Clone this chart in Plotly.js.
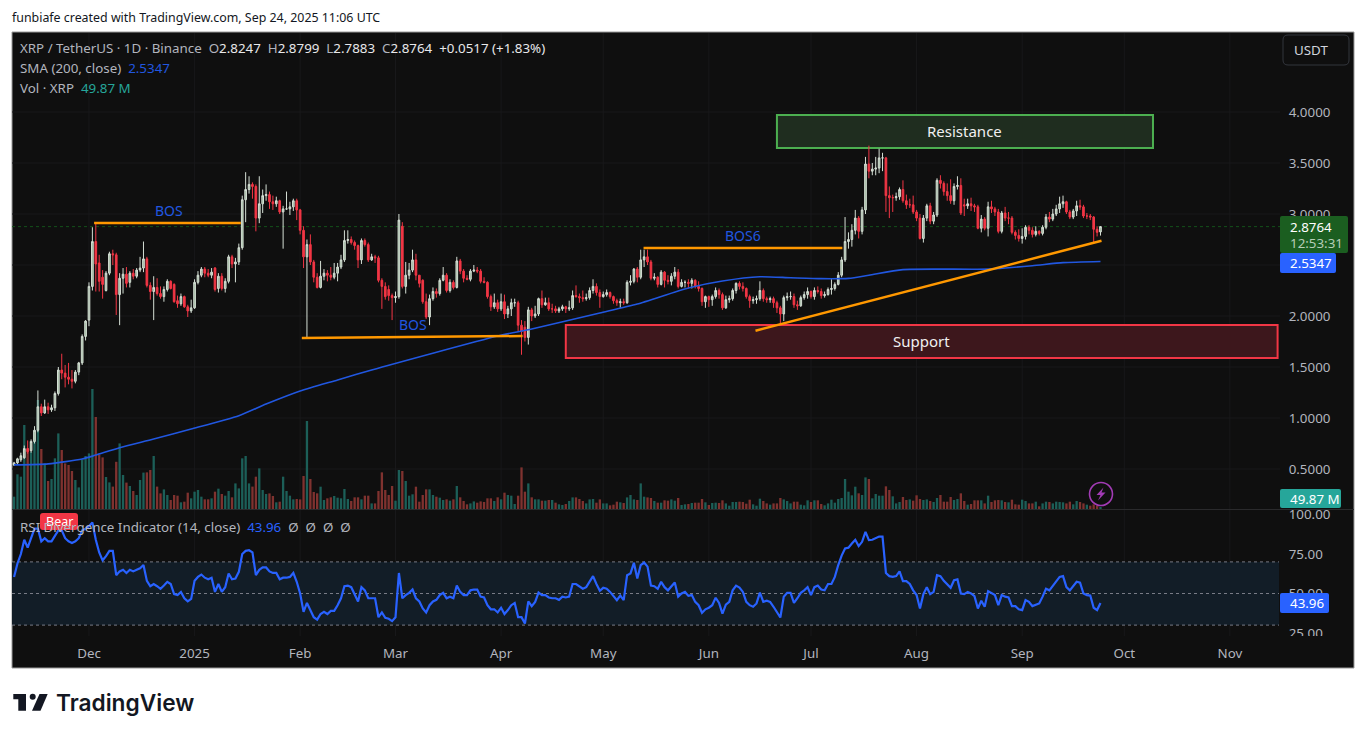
<!DOCTYPE html>
<html><head><meta charset="utf-8">
<script src="https://cdn.plot.ly/plotly-3.0.1.min.js"></script>
<style>html,body{margin:0;padding:0;background:#fff}#c{width:1366px;height:737px}</style>
</head><body><div id="c"></div>
<script>
const firstDay = '2024-11-09';
const opens = [
.54,.56,.59,.61,.70,.68,.77,.88,1.11,1.05,1.11,1.08,1.10,1.24,1.47,1.44,1.40,1.38,1.36,1.45,1.54,1.80,
1.96,2.29,2.73,2.52,2.38,2.25,2.42,2.61,2.60,2.21,2.37,2.41,2.33,2.42,2.39,2.45,2.47,2.56,2.30,2.24,2.28,2.22,2.19,2.26,2.34,2.31,2.15,2.12,2.19,2.09,2.05,
2.08,2.33,2.40,2.46,2.42,2.40,2.47,2.27,2.39,2.27,2.34,2.58,2.51,2.53,2.67,3.14,3.24,3.29,3.27,2.96,3.10,3.18,3.19,3.12,3.10,3.13,3.02,3.05,3.05,3.07,3.13,
3.04,2.84,2.58,2.70,2.53,2.38,2.28,2.39,2.42,2.40,2.38,2.42,2.48,2.55,2.74,2.75,2.72,2.69,2.55,2.74,2.70,2.55,2.58,2.57,2.35,2.29,2.26,2.20,
2.18,2.19,2.88,2.29,2.40,2.45,2.55,2.40,2.35,2.14,1.99,2.17,2.24,2.22,2.35,2.40,2.25,2.33,2.28,2.54,2.44,2.37,2.36,2.44,2.45,2.44,2.34,2.33,2.19,2.09,2.13,
2.07,2.14,2.02,2.07,2.13,2.13,1.91,1.89,1.79,2.06,2.00,2.02,2.17,2.11,2.13,2.07,2.07,2.05,2.07,2.09,2.07,2.08,2.20,2.19,2.18,2.17,2.18,2.25,2.29,2.23,
2.19,2.21,2.23,2.19,2.15,2.13,2.14,2.13,2.33,2.34,2.46,2.38,2.55,2.58,2.53,2.37,2.38,2.31,2.43,2.35,2.34,2.39,2.43,2.29,2.33,2.33,2.32,2.35,2.29,2.27,2.14,
2.19,2.16,2.19,2.25,2.21,2.08,2.16,2.17,2.25,2.32,2.29,2.27,2.19,2.15,2.16,2.17,2.25,2.17,2.16,2.17,2.13,2.08,2.02,2.18,2.19,2.19,2.11,2.10,2.18,2.21,
2.24,2.19,2.25,2.24,2.20,2.21,2.26,2.27,2.31,2.40,2.55,2.73,2.75,2.84,2.96,2.83,3.04,3.49,3.42,3.44,3.45,3.55,3.55,3.18,3.16,3.16,3.17,3.24,3.13,3.09,3.09,
3.02,2.96,2.76,2.96,3.08,2.93,2.99,3.33,3.30,3.22,3.18,3.13,3.27,3.28,3.09,3.08,3.10,3.08,3.07,2.86,2.95,2.86,3.07,3.05,3.02,2.83,3.01,2.96,2.96,2.82,2.79,
2.76,2.78,2.87,2.84,2.80,2.83,2.81,2.87,2.97,2.95,3.00,3.05,3.10,3.12,3.02,2.97,3.03,3.08,3.07,2.98,2.98,2.97,2.85,2.8247];
const closes = [
.56,.60,.63,.70,.67,.77,.88,1.11,1.05,1.11,1.08,1.10,1.24,1.47,1.44,1.40,1.38,1.36,1.45,1.54,1.80,1.95,
2.29,2.73,2.51,2.34,2.31,2.42,2.61,2.60,2.21,2.37,2.41,2.32,2.42,2.39,2.45,2.47,2.56,2.30,2.24,2.28,2.22,2.19,2.26,2.34,2.27,2.14,2.12,2.19,2.09,2.05,2.08,
2.33,2.40,2.46,2.42,2.40,2.43,2.26,2.39,2.27,2.34,2.58,2.51,2.53,2.67,3.14,3.24,3.29,3.27,2.96,3.10,3.18,3.19,3.12,3.10,3.13,3.02,3.05,3.05,3.07,3.13,3.04,
2.84,2.58,2.70,2.53,2.38,2.28,2.39,2.42,2.40,2.38,2.42,2.48,2.55,2.74,2.75,2.72,2.69,2.55,2.74,2.70,2.55,2.58,2.57,2.35,2.29,2.19,2.20,2.18,
2.19,2.94,2.29,2.40,2.45,2.55,2.40,2.32,2.14,1.99,2.17,2.24,2.22,2.35,2.40,2.25,2.33,2.28,2.54,2.44,2.37,2.36,2.44,2.45,2.44,2.34,2.33,2.19,2.09,2.13,2.07,
2.14,2.02,2.07,2.13,2.13,1.91,1.85,1.79,2.06,2.00,2.02,2.17,2.11,2.13,2.07,2.07,2.05,2.07,2.09,2.07,2.08,2.20,2.19,2.18,2.17,2.18,2.25,2.29,2.23,2.19,
2.21,2.23,2.19,2.15,2.13,2.14,2.13,2.33,2.34,2.46,2.38,2.55,2.58,2.53,2.37,2.38,2.31,2.43,2.35,2.34,2.39,2.43,2.29,2.33,2.33,2.32,2.35,2.29,2.27,2.14,2.19,
2.16,2.19,2.25,2.21,2.08,2.16,2.17,2.25,2.32,2.29,2.27,2.19,2.15,2.16,2.17,2.25,2.17,2.16,2.17,2.13,2.08,2.02,2.18,2.19,2.19,2.11,2.10,2.18,2.21,2.24,
2.19,2.25,2.24,2.20,2.21,2.26,2.27,2.31,2.40,2.55,2.73,2.75,2.84,2.96,2.83,3.04,3.49,3.42,3.44,3.45,3.55,3.55,3.18,3.16,3.16,3.17,3.24,3.13,3.09,3.09,3.02,
2.96,2.76,2.96,3.08,2.93,2.99,3.33,3.30,3.22,3.18,3.13,3.27,3.28,3.01,3.08,3.10,3.08,3.07,2.86,2.95,2.86,3.07,3.05,3.02,2.83,3.01,2.96,2.96,2.82,2.79,2.76,
2.78,2.87,2.84,2.80,2.83,2.81,2.87,2.97,2.95,3.00,3.05,3.10,3.12,3.02,2.97,3.03,3.08,3.07,2.98,2.98,2.97,2.85,2.82,2.8764];
const highs = [
.57,.61,.66,.73,.78,.79,.92,1.27,1.14,1.18,1.15,1.13,1.26,1.50,1.63,1.52,1.54,1.47,1.47,1.55,1.82,1.96,
2.33,2.87,2.91,2.60,2.45,2.44,2.63,2.65,2.62,2.42,2.47,2.48,2.44,2.46,2.47,2.58,2.73,2.58,2.33,2.39,2.37,2.29,2.29,2.36,2.35,2.32,2.20,2.22,2.20,2.11,2.16,
2.36,2.44,2.48,2.48,2.46,2.47,2.48,2.42,2.42,2.37,2.60,2.60,2.57,2.71,3.18,3.41,3.37,3.31,3.29,3.37,3.24,3.29,3.22,3.18,3.17,3.14,3.08,3.22,3.12,3.15,3.15,
3.05,2.88,2.75,2.80,2.55,2.42,2.54,2.46,2.45,2.48,2.52,2.52,2.60,2.84,2.84,2.78,2.74,2.70,2.76,2.76,2.72,2.61,2.60,2.59,2.37,2.33,2.30,2.22,
2.24,3.00,2.92,2.53,2.52,2.65,2.61,2.40,2.36,2.22,2.21,2.28,2.27,2.37,2.48,2.42,2.36,2.35,2.58,2.56,2.46,2.40,2.46,2.50,2.48,2.46,2.38,2.34,2.21,2.22,2.16,
2.22,2.21,2.10,2.17,2.17,2.15,1.96,1.95,2.09,2.08,2.10,2.18,2.25,2.18,2.18,2.12,2.10,2.09,2.11,2.10,2.15,2.25,2.30,2.22,2.25,2.22,2.28,2.36,2.32,2.26,
2.24,2.26,2.24,2.20,2.17,2.17,2.17,2.35,2.40,2.47,2.48,2.65,2.65,2.65,2.55,2.42,2.39,2.45,2.44,2.40,2.42,2.48,2.46,2.36,2.35,2.36,2.37,2.36,2.34,2.28,2.20,
2.20,2.21,2.28,2.27,2.23,2.20,2.20,2.27,2.33,2.34,2.33,2.28,2.21,2.19,2.20,2.34,2.27,2.19,2.19,2.19,2.15,2.10,2.20,2.23,2.24,2.22,2.15,2.20,2.24,2.28,
2.25,2.28,2.29,2.27,2.24,2.28,2.36,2.33,2.43,2.58,2.97,2.82,2.90,3.04,2.98,3.07,3.56,3.67,3.50,3.56,3.64,3.60,3.56,3.27,3.19,3.21,3.26,3.33,3.19,3.15,3.18,
3.04,3.00,2.99,3.10,3.11,3.02,3.35,3.38,3.32,3.30,3.34,3.30,3.37,3.35,3.15,3.15,3.16,3.10,3.09,2.99,2.97,3.12,3.13,3.07,3.05,3.03,3.07,3.02,2.98,2.84,2.85,
2.86,2.89,2.89,2.87,2.88,2.84,2.89,3.00,3.02,3.05,3.09,3.17,3.18,3.13,3.04,3.05,3.13,3.14,3.09,3.01,3.00,2.98,2.88,2.8799];
const lows = [
.53,.55,.57,.60,.65,.66,.75,.86,1.02,1.04,1.04,1.06,1.07,1.22,1.38,1.30,1.33,1.29,1.34,1.42,1.52,1.76,
1.90,2.25,2.24,2.24,2.17,2.24,2.40,2.50,2.01,1.91,2.22,2.28,2.28,2.36,2.37,2.43,2.43,2.28,2.16,1.96,2.20,2.17,2.14,2.24,2.26,2.13,2.08,2.10,2.08,1.99,2.03,
2.07,2.31,2.38,2.38,2.38,2.37,2.24,2.23,2.25,2.23,2.32,2.47,2.33,2.50,2.65,2.92,3.20,3.15,2.83,2.91,3.01,3.13,3.05,3.04,3.07,3.00,2.66,3.04,2.99,3.03,2.94,
2.80,2.47,1.78,2.50,2.33,2.27,2.27,2.35,2.34,2.35,2.36,2.34,2.46,2.53,2.71,2.70,2.65,2.47,2.51,2.68,2.53,2.54,2.52,2.33,2.07,2.16,2.15,1.96,
2.13,2.17,2.27,2.22,2.36,2.43,2.35,2.28,2.12,1.97,1.91,2.15,2.18,2.20,2.34,2.23,2.23,2.26,2.27,2.41,2.33,2.35,2.34,2.43,2.42,2.32,2.32,2.17,2.05,2.07,2.04,
2.05,1.97,1.98,2.00,2.09,1.85,1.62,1.75,1.72,1.95,1.98,2.00,2.08,2.10,2.05,2.03,2.03,2.03,2.05,2.03,2.05,2.06,2.18,2.13,2.14,2.15,2.16,2.22,2.20,2.08,
2.18,2.19,2.17,2.12,2.10,2.08,2.11,2.12,2.30,2.32,2.33,2.36,2.48,2.50,2.35,2.35,2.28,2.30,2.28,2.31,2.30,2.36,2.27,2.28,2.28,2.27,2.27,2.27,2.24,2.10,2.08,
2.09,2.10,2.17,2.17,2.06,2.07,2.13,2.15,2.22,2.26,2.24,2.17,2.08,2.12,2.12,2.15,2.14,2.13,2.13,2.08,2.03,1.92,1.95,2.15,2.16,2.08,2.06,2.09,2.16,2.17,
2.17,2.16,2.22,2.17,2.18,2.20,2.21,2.25,2.30,2.38,2.53,2.66,2.68,2.80,2.76,2.80,3.00,3.35,3.38,3.38,3.40,3.42,3.02,2.96,3.02,3.13,3.14,3.11,3.05,3.06,3.00,
2.93,2.75,2.72,2.93,2.90,2.90,2.97,3.25,3.18,3.13,3.10,3.09,3.24,2.99,2.98,3.05,3.03,3.02,2.85,2.82,2.84,2.78,3.01,2.98,2.81,2.81,2.93,2.90,2.80,2.75,2.73,
2.71,2.75,2.80,2.77,2.78,2.79,2.79,2.85,2.92,2.93,2.98,3.01,3.06,3.00,2.95,2.95,2.98,3.04,2.96,2.95,2.94,2.71,2.78,2.7883];
const volumesM = [
308,867,808,2100,1517,1433,1975,2725,1500,1140,700,750,1267,1890,1475,1140,1100,950,725,540,1240,1325,
1390,3000,2300,1350,1290,800,665,560,1180,1640,850,660,575,450,350,725,910,916,975,1325,560,390,490,350,225,350,333,167,183,408,267,
433,475,308,242,242,267,433,508,375,333,450,292,640,515,1267,1325,640,560,808,1016,475,375,390,325,167,183,808,450,333,242,250,
240,825,2200,750,425,392,558,225,267,292,325,283,267,500,250,200,292,292,242,333,333,140,140,450,916,475,350,575,
208,975,950,700,333,367,558,183,350,491,491,350,308,283,225,242,208,242,575,292,200,117,140,190,158,190,175,267,267,200,292,
242,408,350,333,125,333,1040,433,640,292,242,242,208,208,225,225,158,117,100,125,200,290,290,250,200,140,240,250,158,240,
140,140,92,108,183,167,150,290,350,240,225,640,308,290,275,200,158,158,217,208,240,208,275,100,117,125,150,158,158,250,167,
100,150,158,150,217,140,83,175,175,183,175,133,233,117,83,258,200,140,108,140,140,275,240,200,140,183,183,108,92,217,
175,217,217,125,92,140,233,158,250,275,750,433,342,558,392,350,790,750,267,375,333,333,567,475,317,140,175,300,225,240,208,
342,250,225,240,200,175,275,350,183,183,300,225,250,392,200,108,125,217,217,217,140,333,175,217,225,217,175,167,233,117,108,
233,200,140,140,183,67,140,183,175,140,183,175,167,140,183,117,200,175,140,108,83,117,83,49.87];
const rsi = [
60.5,69,75,84,79,85,91,91,83,85,83,83,87,90,90,85,83,82,83,85,90,91,
92.6,95,84,76,71,73.6,77,77,61.6,64,65,63,65,64,65,66,68,58,54.6,56,54.6,53,55,57.4,56,49.6,49,51,47,45,46.6,
58,60.5,62,60,59,60,51,56,51,54,62.7,59,59.5,63.7,75,77,77.4,76,61.6,65,66.5,66.5,64,63,63,59,60,60,60.5,63,57.4,
50,38.4,44,39.5,35,33.5,37,38.4,37,39,39,42.6,47,54.6,55,54,50,45,54,52,47,47,47,35,38,34.6,34,32.5,
35,63,47,49,50.4,52.5,47,45,40.5,38,42.6,45,46,49,50.4,47,48,47,55,51,49,49,52,52.5,52.5,48,47.5,42.6,40,40,38,
41,37,39.5,42.6,44,35,35,31,45,42,44.7,50.6,49,49,47.5,47,47,46,48,47.5,48,56,56,54.6,53,54,58,61,56,51.7,
53.6,53,51,48.3,45.8,48.7,45.8,61.6,62.7,69.4,59.5,68,69.6,67,55,54.6,53,57.4,54,52,54.6,57,48,50,51,48.5,49,44.7,42.6,37.8,40,
41,42.6,47.3,44,37.3,43,44.7,52,55,53.8,51,44.7,42.6,41.6,43.7,50.6,44.7,45.4,44.7,41.6,38.4,34.8,48,50.4,50.4,44,47,50.4,52,54,
49,54,55,52.5,52,56,56,60.5,68,74,78.5,79,81.6,84,80,82.7,89,83.8,84,84.8,86,86,63,61,60.5,61,64,57.8,57.8,56,52,
49,40.5,49.6,54,49.6,51,61.6,61,58,56,53.6,58.4,58.9,50,49.6,51,50,48.3,40.5,45.4,41.6,51.5,50.4,49,42.6,49,48,47.5,42,42,40,
39.5,45.8,44.7,42,43,43.7,48,53,52,54.6,57.4,60.5,61,54,52,54.6,57.4,56.8,50,49,48.7,41,39.5,43.96];
const smaDates = ['2024-11-09','2024-11-19','2024-11-29','2024-12-03','2024-12-10','2024-12-20','2024-12-31','2025-01-14','2025-01-22','2025-02-01','2025-02-12','2025-02-22','2025-03-31','2025-04-10','2025-04-30','2025-05-11','2025-05-26','2025-06-05','2025-06-16','2025-06-25','2025-07-04','2025-07-12','2025-07-18','2025-07-28','2025-08-22','2025-09-04','2025-09-13','2025-09-24'];
const smaValues = [.54,.55,.598,.637,.709,.794,.892,1.023,1.137,1.265,1.373,1.471,1.804,1.873,2.03,2.118,2.275,2.343,2.385,2.375,2.366,2.369,2.40,2.455,2.46,2.493,2.523,2.5347];
const monthTicks = ['2024-12-01','2025-01-01','2025-02-01','2025-03-01','2025-04-01','2025-05-01','2025-06-01','2025-07-01','2025-08-01','2025-09-01','2025-10-01','2025-11-01'];
const monthLabels = ['Dec','2025','Feb','Mar','Apr','May','Jun','Jul','Aug','Sep','Oct','Nov'];
const priceTicks = [.5,1,1.5,2,3,3.5,4];
const priceGrid = [.5,1,1.5,2,2.5,3,3.5,4];
const rsiTicks = [25,50,75,100];
const rsiLevels = [70,50,30];
const bosA = {x:['2024-12-02T12:00','2025-01-14T14:00'], y:[2.912,2.912]};
const bosB = {x:['2025-02-01T12:00','2025-04-07T08:00'], y:[1.784,1.804]};
const bos6 = {x:['2025-05-12T20:00','2025-07-10T05:00'], y:[2.667,2.667]};
const trend = {x:['2025-06-14T17:00','2025-09-24T07:00'], y:[1.856,2.738]};
const resistanceZone = {x:['2025-06-21','2025-10-09T10:00'], y:[3.647,3.971]};
const supportZone = {x:['2025-04-20','2025-11-15'], y:[1.588,1.912]};

const dates = closes.map((_,i)=>{const d=new Date(firstDay+'T00:00:00Z');d.setUTCDate(d.getUTCDate()+i);return d.toISOString().slice(0,10);});
const last = closes[closes.length-1];
const W=1366,H=737, px=x=>x/W, py=y=>1-y/H;
const FONT='"Noto Sans", sans-serif';
const GREY='#b2b5be', BLUE='#2962ff', ORANGE='#ff9800', GRID='#18181a';
const TXT=13.35;

const orange = (o)=>({type:'scatter',mode:'lines',x:o.x,y:o.y,xaxis:'x',yaxis:'y2',line:{color:ORANGE,width:2.5},hoverinfo:'skip'});
const traces=[
 {type:'bar',x:dates,y:volumesM,xaxis:'x',yaxis:'y',width:86400000*0.68,
  marker:{color:closes.map((c,i)=>c>=opens[i]?'#1c5f58':'#7f322f'),line:{width:0}},hoverinfo:'skip'},
 {type:'scatter',mode:'lines',x:smaDates,y:smaValues,xaxis:'x',yaxis:'y2',line:{color:'#2157e0',width:1.6,shape:'spline',smoothing:0.6},hoverinfo:'skip'},
 {type:'candlestick',x:dates,open:opens,high:highs,low:lows,close:closes,xaxis:'x',yaxis:'y2',whiskerwidth:0,
  increasing:{line:{color:'#d5dfd5',width:1},fillcolor:'#9db89d'},
  decreasing:{line:{color:'#f23645',width:1},fillcolor:'#f23645'},hoverinfo:'skip'},
 orange(bosA),orange(bosB),orange(bos6),orange(trend),
 {type:'scatter',mode:'lines',x:dates,y:rsi,xaxis:'x',yaxis:'y3',line:{color:BLUE,width:2.2},hoverinfo:'skip'}
];
const rr=(x0,y0,x1,y1,r)=>`M${px(x0+r)},${py(y0)}L${px(x1-r)},${py(y0)}Q${px(x1)},${py(y0)} ${px(x1)},${py(y0+r)}L${px(x1)},${py(y1-r)}Q${px(x1)},${py(y1)} ${px(x1-r)},${py(y1)}L${px(x0+r)},${py(y1)}Q${px(x0)},${py(y1)} ${px(x0)},${py(y1-r)}L${px(x0)},${py(y0+r)}Q${px(x0)},${py(y0)} ${px(x0+r)},${py(y0)}Z`;
const poly=pts=>'M'+pts.map(p=>px(p[0])+','+py(p[1])).join('L')+'Z';
const paperRect=(x0,y0,x1,y1,fill,line,layer)=>({type:'rect',xref:'paper',yref:'paper',x0:px(x0),x1:px(x1),y0:py(y1),y1:py(y0),fillcolor:fill,line:line||{width:0},layer:layer||'above'});
const paperPath=(p,fill,line)=>({type:'path',xref:'paper',yref:'paper',path:p,fillcolor:fill,line:line||{width:0},layer:'above'});
const zone=(z,fill,col)=>({type:'rect',xref:'x',yref:'y2',x0:z.x[0],x1:z.x[1],y0:z.y[0],y1:z.y[1],fillcolor:fill,line:{color:col,width:2},layer:'below'});
const shapes=[
 paperRect(12,32,1354,668,'#0f0f0f',{color:'#9a9a9a',width:1},'below'),
 ...monthTicks.map(t=>({type:'line',xref:'x',yref:'paper',x0:t,x1:t,y0:py(636),y1:py(33),line:{color:GRID,width:1},layer:'below'})),
 ...priceGrid.map(v=>({type:'line',xref:'paper',yref:'y2',x0:px(12),x1:px(1280),y0:v,y1:v,line:{color:GRID,width:1},layer:'below'})),
 zone(resistanceZone,'#1f2d1f','#4caf50'),
 zone(supportZone,'#3d171c','#f23645'),
 {type:'line',xref:'paper',yref:'y2',x0:px(12),x1:px(1280),y0:last,y1:last,line:{color:'#14501a',width:1,dash:'dot'},layer:'below'},
 {type:'rect',xref:'paper',yref:'y3',x0:px(12),x1:px(1279),y0:rsiLevels[2],y1:rsiLevels[0],fillcolor:'#121d27',line:{width:0},layer:'below'},
 ...rsiLevels.map(v=>({type:'line',xref:'paper',yref:'y3',x0:px(12),x1:px(1279),y0:v,y1:v,line:{color:'#787b86',width:1,dash:'dot'},layer:'below'})),
 paperRect(12,509,1354,510,'#2a2a2c'),
 paperRect(1281,636,1353,667,'#0f0f0f'),
 paperPath(rr(1283,35,1349,65,5),'rgba(0,0,0,0)',{color:'#33363d',width:1}),
 paperPath(rr(1280,216,1348,253,2),'#1b5e20'),
 paperPath(rr(1280,253,1336,273,2),BLUE),
 paperPath(rr(1280,489,1341,508,2),'#26a69a'),
 paperPath(rr(1280,593,1329,613,2),BLUE),
 paperPath(rr(40,513,78,530,3),'#f23645'),
 {type:'circle',xref:'paper',yref:'paper',x0:px(1089.5),x1:px(1112.5),y0:py(505.5),y1:py(482.5),line:{color:'#a23bb5',width:1.6},fillcolor:'rgba(0,0,0,0)',layer:'above'},
 paperPath(poly([[1103.5,487.5],[1096.5,495],[1100.5,495],[1098,500.5],[1105.5,492.5],[1101.5,492.5]]),'#a23bb5'),
 paperPath(poly([[13.3,694],[26,694],[26,710.7],[18.3,710.7],[18.3,699.3],[13.3,699.3]]),'#131722'),
 {type:'circle',xref:'paper',yref:'paper',x0:px(29.7),x1:px(35.7),y0:py(699.7),y1:py(693.7),fillcolor:'#131722',line:{width:0},layer:'above'},
 paperPath(poly([[39.5,694],[47.7,694],[40.5,710.7],[32,710.7]]),'#131722'),
];
const note=(x,y,text,size,color,anchor,extra)=>Object.assign({xref:'paper',yref:'paper',x:px(x),y:py(y),text,showarrow:false,xanchor:anchor||'left',yanchor:'middle',align:anchor||'left',font:{family:FONT,size,color},borderpad:0,borderwidth:0},extra||{});
const w=s=>`<span style="color:#e8e8ea">${s}</span>`;
const annotations=[
 note(12,17,'funbiafe created with TradingView.com, Sep 24, 2025 11:06 UTC',12.4,'#131722'),
 note(20,48,`XRP / TetherUS · 1D · Binance  O${w('2.8247')}  H${w('2.8799')}  L${w('2.7883')}  C${w('2.8764')}  ${w('+0.0517 (+1.83%)')}`,TXT,GREY),
 note(20,68,`SMA (200, close)  <span style="color:#2157e0">2.5347</span>`,TXT,GREY),
 note(20,88,`Vol · XRP  <span style="color:#26a69a">49.87 M</span>`,TXT,GREY),
 note(59,521,'Bear',12.5,'#ffffff','center'),
 note(20,527,`RSI Divergence Indicator (14, close)  <span style="color:${BLUE}">43.96</span>  Ø  Ø  Ø  Ø`,TXT,GREY),
 note(169,211,'BOS',14,'#2157e0','center'),
 note(413,324,'BOS',14,'#2157e0','center'),
 note(743,235,'BOS6',14,'#2157e0','center'),
 note(964,131,'Resistance',15,'#f0f0f0','center'),
 note(921,341,'Support',15,'#f0f0f0','center'),
 note(1294,50,'USDT',TXT,'#d1d4dc'),
 note(1290,227,'2.8764',TXT,'#ffffff'),
 note(1290,243,'12:53:31',TXT,'#b6cdb7'),
 note(1290,263,'2.5347',TXT,'#ffffff'),
 note(1290,499,'49.87 M',TXT,'#ffffff'),
 note(1290,603,'43.96',TXT,'#ffffff'),
 note(56,702,'TradingView',22.7,'#131722','left',{font:{family:'Inter, sans-serif',size:22.7,color:'#131722',weight:600}}),
];
const layout={
 width:W,height:H,margin:{l:0,r:0,t:0,b:0,pad:0},paper_bgcolor:'#ffffff',plot_bgcolor:'rgba(0,0,0,0)',showlegend:false,
 font:{family:FONT,size:12,color:GREY},dragmode:false,
 xaxis:{type:'date',domain:[px(12),px(1280)],range:['2024-11-08T09:30','2025-11-15T17:00'],anchor:'y3',
  tickmode:'array',tickvals:monthTicks,ticktext:monthLabels,tickfont:{family:FONT,size:TXT,color:GREY},
  ticks:'outside',ticklen:5,tickcolor:'rgba(0,0,0,0)',showgrid:false,zeroline:false,showline:false,rangeslider:{visible:false},fixedrange:true},
 yaxis:{domain:[py(509),py(32)],range:[0,477*25],visible:false,fixedrange:true,anchor:'x'},
 yaxis2:{overlaying:'y',side:'right',anchor:'x',range:[4-(509-112)/102,4+(112-32)/102],
  tickmode:'array',tickvals:priceTicks,tickformat:'.4f',tickfont:{family:FONT,size:TXT,color:GREY},
  ticks:'outside',ticklen:5,tickcolor:'rgba(0,0,0,0)',showgrid:false,zeroline:false,showline:false,fixedrange:true},
 yaxis3:{domain:[py(636),py(509)],side:'right',anchor:'x',range:[50-(636-593.5)/1.58,50+(593.5-509)/1.58],
  tickmode:'array',tickvals:rsiTicks,tickformat:'.2f',tickfont:{family:FONT,size:TXT,color:GREY},
  ticks:'outside',ticklen:5,tickcolor:'rgba(0,0,0,0)',showgrid:false,zeroline:false,showline:false,fixedrange:true},
 shapes,annotations
};
Plotly.newPlot('c',traces,layout,{displayModeBar:false,staticPlot:true});
</script></body></html>
